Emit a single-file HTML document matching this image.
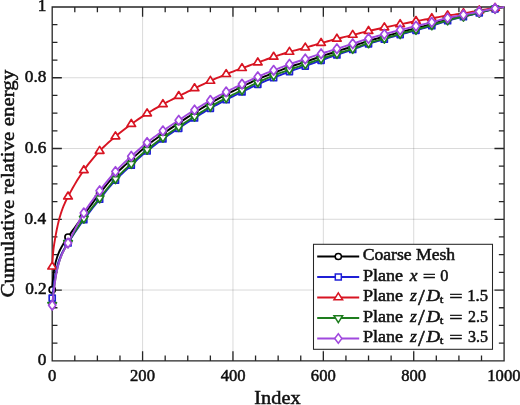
<!DOCTYPE html>
<html><head><meta charset="utf-8"><style>
html,body{margin:0;padding:0;background:#fff;}
svg{display:block;}
text{font-family:"Liberation Serif","DejaVu Serif",serif;fill:#111;stroke:#111;stroke-width:0.5px;}
</style></head><body>
<svg width="520" height="405" viewBox="0 0 520 405">
<rect x="0" y="0" width="520" height="405" fill="#fff"/>

<path d="M142.58 7.00V360.80" stroke="#262626" stroke-opacity="0.17" stroke-width="1" fill="none"/>
<path d="M232.96 7.00V360.80" stroke="#262626" stroke-opacity="0.17" stroke-width="1" fill="none"/>
<path d="M323.34 7.00V360.80" stroke="#262626" stroke-opacity="0.17" stroke-width="1" fill="none"/>
<path d="M413.72 7.00V360.80" stroke="#262626" stroke-opacity="0.17" stroke-width="1" fill="none"/>
<path d="M52.20 290.04H504.10" stroke="#262626" stroke-opacity="0.17" stroke-width="1" fill="none"/>
<path d="M52.20 219.28H504.10" stroke="#262626" stroke-opacity="0.17" stroke-width="1" fill="none"/>
<path d="M52.20 148.52H504.10" stroke="#262626" stroke-opacity="0.17" stroke-width="1" fill="none"/>
<path d="M52.20 77.76H504.10" stroke="#262626" stroke-opacity="0.17" stroke-width="1" fill="none"/>
<path d="M52.20 7.00H504.10V360.80H52.20Z M52.20 360.80v-9.0 M52.20 7.00v9.0 M74.80 360.80v-4.6 M74.80 7.00v4.6 M97.39 360.80v-4.6 M97.39 7.00v4.6 M119.98 360.80v-4.6 M119.98 7.00v4.6 M142.58 360.80v-9.0 M142.58 7.00v9.0 M165.18 360.80v-4.6 M165.18 7.00v4.6 M187.77 360.80v-4.6 M187.77 7.00v4.6 M210.37 360.80v-4.6 M210.37 7.00v4.6 M232.96 360.80v-9.0 M232.96 7.00v9.0 M255.56 360.80v-4.6 M255.56 7.00v4.6 M278.15 360.80v-4.6 M278.15 7.00v4.6 M300.75 360.80v-4.6 M300.75 7.00v4.6 M323.34 360.80v-9.0 M323.34 7.00v9.0 M345.94 360.80v-4.6 M345.94 7.00v4.6 M368.53 360.80v-4.6 M368.53 7.00v4.6 M391.12 360.80v-4.6 M391.12 7.00v4.6 M413.72 360.80v-9.0 M413.72 7.00v9.0 M436.31 360.80v-4.6 M436.31 7.00v4.6 M458.91 360.80v-4.6 M458.91 7.00v4.6 M481.51 360.80v-4.6 M481.51 7.00v4.6 M504.10 360.80v-9.0 M504.10 7.00v9.0 M52.20 360.80h9.0 M504.10 360.80h-9.0 M52.20 343.11h4.6 M504.10 343.11h-4.6 M52.20 325.42h4.6 M504.10 325.42h-4.6 M52.20 307.73h4.6 M504.10 307.73h-4.6 M52.20 290.04h9.0 M504.10 290.04h-9.0 M52.20 272.35h4.6 M504.10 272.35h-4.6 M52.20 254.66h4.6 M504.10 254.66h-4.6 M52.20 236.97h4.6 M504.10 236.97h-4.6 M52.20 219.28h9.0 M504.10 219.28h-9.0 M52.20 201.59h4.6 M504.10 201.59h-4.6 M52.20 183.90h4.6 M504.10 183.90h-4.6 M52.20 166.21h4.6 M504.10 166.21h-4.6 M52.20 148.52h9.0 M504.10 148.52h-9.0 M52.20 130.83h4.6 M504.10 130.83h-4.6 M52.20 113.14h4.6 M504.10 113.14h-4.6 M52.20 95.45h4.6 M504.10 95.45h-4.6 M52.20 77.76h9.0 M504.10 77.76h-9.0 M52.20 60.07h4.6 M504.10 60.07h-4.6 M52.20 42.38h4.6 M504.10 42.38h-4.6 M52.20 24.69h4.6 M504.10 24.69h-4.6 M52.20 7.00h9.0 M504.10 7.00h-9.0" stroke="#262626" stroke-width="1.3" fill="none" stroke-linecap="square"/>
<g fill="none" stroke-width="1.9" stroke-linejoin="round">
<path d="M52.20 289.76 L52.43 286.88 L52.65 284.04 L52.88 281.30 L53.10 278.69 L53.33 276.27 L53.56 274.08 L53.78 272.17 L54.01 270.58 L54.23 269.21 L54.46 267.93 L54.69 266.71 L54.91 265.57 L55.14 264.49 L55.36 263.47 L55.59 262.51 L55.82 261.60 L56.04 260.75 L56.27 259.93 L56.49 259.16 L56.72 258.41 L56.94 257.71 L57.17 257.02 L57.40 256.36 L57.62 255.72 L57.85 255.10 L58.07 254.49 L58.30 253.91 L58.53 253.34 L58.75 252.79 L58.98 252.25 L59.20 251.73 L59.43 251.23 L59.66 250.73 L59.88 250.26 L60.11 249.79 L60.33 249.33 L60.56 248.89 L60.79 248.45 L61.01 248.03 L61.24 247.61 L61.46 247.20 L61.69 246.80 L61.92 246.40 L62.14 246.00 L62.37 245.61 L62.59 245.23 L62.82 244.84 L63.05 244.46 L63.27 244.07 L63.50 243.69 L63.72 243.31 L63.95 242.94 L64.18 242.58 L64.40 242.23 L64.63 241.89 L64.85 241.55 L65.08 241.21 L65.31 240.88 L65.53 240.56 L65.76 240.24 L65.98 239.92 L66.21 239.60 L66.43 239.29 L66.66 238.98 L66.89 238.66 L67.11 238.35 L67.34 238.03 L67.56 237.72 L67.79 237.40 L68.02 237.08 L68.24 236.75 L68.47 236.43 L68.69 236.11 L68.92 235.78 L69.15 235.46 L69.37 235.14 L69.60 234.82 L69.82 234.50 L70.05 234.17 L70.28 233.85 L72.54 230.67 L74.80 227.51 L77.05 224.37 L79.31 221.25 L81.57 218.14 L83.83 215.03 L86.09 211.92 L88.35 208.79 L90.61 205.67 L92.87 202.58 L95.13 199.52 L97.39 196.52 L99.65 193.59 L101.91 190.71 L104.17 187.85 L106.43 185.03 L108.69 182.26 L110.95 179.58 L113.21 176.99 L115.47 174.52 L117.73 172.18 L119.98 169.93 L122.24 167.77 L124.50 165.66 L126.76 163.59 L129.02 161.54 L131.28 159.49 L133.54 157.43 L135.80 155.37 L138.06 153.34 L140.32 151.33 L142.58 149.37 L144.84 147.45 L147.10 145.60 L149.36 143.81 L151.62 142.07 L153.88 140.36 L156.14 138.70 L158.40 137.06 L160.66 135.44 L162.92 133.84 L165.18 132.25 L167.43 130.70 L169.69 129.16 L171.95 127.64 L174.21 126.14 L176.47 124.64 L178.73 123.13 L180.99 121.63 L183.25 120.13 L185.51 118.64 L187.77 117.15 L190.03 115.68 L192.29 114.22 L194.55 112.79 L196.81 111.36 L199.07 109.95 L201.33 108.55 L203.59 107.16 L205.85 105.80 L208.11 104.46 L210.37 103.15 L212.62 101.86 L214.88 100.60 L217.14 99.36 L219.40 98.14 L221.66 96.93 L223.92 95.74 L226.18 94.57 L228.44 93.40 L230.70 92.26 L232.96 91.13 L235.22 90.01 L237.48 88.90 L239.74 87.79 L242.00 86.69 L244.26 85.59 L246.52 84.48 L248.78 83.37 L251.04 82.28 L253.30 81.21 L255.56 80.17 L257.81 79.18 L260.07 78.22 L262.33 77.29 L264.59 76.40 L266.85 75.52 L269.11 74.65 L271.37 73.79 L273.63 72.92 L275.89 72.06 L278.15 71.19 L280.41 70.33 L282.67 69.48 L284.93 68.65 L287.19 67.83 L289.45 67.03 L291.71 66.25 L293.97 65.50 L296.23 64.77 L298.49 64.04 L300.75 63.32 L303.00 62.59 L305.26 61.84 L307.52 61.07 L309.78 60.30 L312.04 59.52 L314.30 58.73 L316.56 57.96 L318.82 57.19 L321.08 56.43 L323.34 55.69 L325.60 54.96 L327.86 54.24 L330.12 53.52 L332.38 52.81 L334.64 52.10 L336.90 51.38 L339.16 50.66 L341.42 49.94 L343.68 49.23 L345.94 48.51 L348.19 47.79 L350.45 47.06 L352.71 46.32 L354.97 45.56 L357.23 44.77 L359.49 43.97 L361.75 43.17 L364.01 42.38 L366.27 41.63 L368.53 40.91 L370.79 40.24 L373.05 39.60 L375.31 38.99 L377.57 38.38 L379.83 37.78 L382.09 37.18 L384.35 36.57 L386.61 35.94 L388.87 35.31 L391.12 34.69 L393.38 34.06 L395.64 33.44 L397.90 32.82 L400.16 32.22 L402.42 31.64 L404.68 31.06 L406.94 30.50 L409.20 29.94 L411.46 29.38 L413.72 28.81 L415.98 28.23 L418.24 27.64 L420.50 27.04 L422.76 26.43 L425.02 25.83 L427.28 25.21 L429.54 24.59 L431.80 23.96 L434.06 23.30 L436.31 22.63 L438.57 21.94 L440.83 21.25 L443.09 20.57 L445.35 19.93 L447.61 19.33 L449.87 18.77 L452.13 18.24 L454.39 17.74 L456.65 17.24 L458.91 16.76 L461.17 16.26 L463.43 15.76 L465.69 15.25 L467.95 14.74 L470.21 14.24 L472.47 13.73 L474.73 13.22 L476.99 12.71 L479.25 12.20 L481.51 11.68 L483.76 11.15 L486.02 10.63 L488.28 10.10 L490.54 9.59 L492.80 9.10 L495.06 8.63 L497.32 8.20 L499.58 7.78 L501.84 7.38 L504.10 7.00" stroke="#000000"/>
<g fill="#fff" stroke="#000000" stroke-width="1.7">
<circle cx="52.20" cy="289.76" r="3.1"/>
<circle cx="68.02" cy="237.08" r="3.1"/>
<circle cx="83.83" cy="215.03" r="3.1"/>
<circle cx="99.65" cy="193.59" r="3.1"/>
<circle cx="115.47" cy="174.52" r="3.1"/>
<circle cx="131.28" cy="159.49" r="3.1"/>
<circle cx="147.10" cy="145.60" r="3.1"/>
<circle cx="162.92" cy="133.84" r="3.1"/>
<circle cx="178.73" cy="123.13" r="3.1"/>
<circle cx="194.55" cy="112.79" r="3.1"/>
<circle cx="210.37" cy="103.15" r="3.1"/>
<circle cx="226.18" cy="94.57" r="3.1"/>
<circle cx="242.00" cy="86.69" r="3.1"/>
<circle cx="257.81" cy="79.18" r="3.1"/>
<circle cx="273.63" cy="72.92" r="3.1"/>
<circle cx="289.45" cy="67.03" r="3.1"/>
<circle cx="305.26" cy="61.84" r="3.1"/>
<circle cx="321.08" cy="56.43" r="3.1"/>
<circle cx="336.90" cy="51.38" r="3.1"/>
<circle cx="352.71" cy="46.32" r="3.1"/>
<circle cx="368.53" cy="40.91" r="3.1"/>
<circle cx="384.35" cy="36.57" r="3.1"/>
<circle cx="400.16" cy="32.22" r="3.1"/>
<circle cx="415.98" cy="28.23" r="3.1"/>
<circle cx="431.80" cy="23.96" r="3.1"/>
<circle cx="447.61" cy="19.33" r="3.1"/>
<circle cx="463.43" cy="15.76" r="3.1"/>
<circle cx="479.25" cy="12.20" r="3.1"/>
<circle cx="495.06" cy="8.63" r="3.1"/>
</g>
<path d="M52.20 298.04 L52.43 296.14 L52.65 294.27 L52.88 292.44 L53.10 290.63 L53.33 288.86 L53.56 287.13 L53.78 285.43 L54.01 283.78 L54.23 282.18 L54.46 280.62 L54.69 279.11 L54.91 277.65 L55.14 276.24 L55.36 274.89 L55.59 273.60 L55.82 272.37 L56.04 271.20 L56.27 270.10 L56.49 269.07 L56.72 268.10 L56.94 267.19 L57.17 266.32 L57.40 265.47 L57.62 264.65 L57.85 263.86 L58.07 263.11 L58.30 262.37 L58.53 261.66 L58.75 260.98 L58.98 260.32 L59.20 259.68 L59.43 259.06 L59.66 258.45 L59.88 257.87 L60.11 257.30 L60.33 256.75 L60.56 256.21 L60.79 255.68 L61.01 255.17 L61.24 254.66 L61.46 254.16 L61.69 253.68 L61.92 253.21 L62.14 252.75 L62.37 252.30 L62.59 251.87 L62.82 251.44 L63.05 251.02 L63.27 250.61 L63.50 250.21 L63.72 249.81 L63.95 249.43 L64.18 249.05 L64.40 248.67 L64.63 248.30 L64.85 247.94 L65.08 247.57 L65.31 247.22 L65.53 246.86 L65.76 246.51 L65.98 246.16 L66.21 245.81 L66.43 245.46 L66.66 245.11 L66.89 244.76 L67.11 244.41 L67.34 244.06 L67.56 243.70 L67.79 243.35 L68.02 242.98 L68.24 242.62 L68.47 242.26 L68.69 241.90 L68.92 241.54 L69.15 241.18 L69.37 240.83 L69.60 240.47 L69.82 240.11 L70.05 239.76 L70.28 239.41 L72.54 235.92 L74.80 232.52 L77.05 229.20 L79.31 225.95 L81.57 222.77 L83.83 219.63 L86.09 216.57 L88.35 213.57 L90.61 210.64 L92.87 207.75 L95.13 204.90 L97.39 202.07 L99.65 199.25 L101.91 196.42 L104.17 193.58 L106.43 190.76 L108.69 187.98 L110.95 185.27 L113.21 182.66 L115.47 180.19 L117.73 177.84 L119.98 175.60 L122.24 173.44 L124.50 171.34 L126.76 169.27 L129.02 167.22 L131.28 165.15 L133.54 163.06 L135.80 160.98 L138.06 158.90 L140.32 156.86 L142.58 154.85 L144.84 152.89 L147.10 151.00 L149.36 149.16 L151.62 147.38 L153.88 145.63 L156.14 143.92 L158.40 142.24 L160.66 140.59 L162.92 138.97 L165.18 137.37 L167.43 135.81 L169.69 134.28 L171.95 132.77 L174.21 131.27 L176.47 129.78 L178.73 128.28 L180.99 126.78 L183.25 125.28 L185.51 123.79 L187.77 122.31 L190.03 120.84 L192.29 119.39 L194.55 117.95 L196.81 116.53 L199.07 115.12 L201.33 113.72 L203.59 112.34 L205.85 110.98 L208.11 109.64 L210.37 108.33 L212.62 107.05 L214.88 105.79 L217.14 104.55 L219.40 103.33 L221.66 102.13 L223.92 100.94 L226.18 99.77 L228.44 98.61 L230.70 97.47 L232.96 96.34 L235.22 95.23 L237.48 94.12 L239.74 93.01 L242.00 91.91 L244.26 90.80 L246.52 89.69 L248.78 88.58 L251.04 87.47 L253.30 86.39 L255.56 85.33 L257.81 84.31 L260.07 83.32 L262.33 82.35 L264.59 81.41 L266.85 80.49 L269.11 79.57 L271.37 78.67 L273.63 77.76 L275.89 76.85 L278.15 75.94 L280.41 75.04 L282.67 74.15 L284.93 73.27 L287.19 72.41 L289.45 71.57 L291.71 70.75 L293.97 69.96 L296.23 69.19 L298.49 68.42 L300.75 67.65 L303.00 66.88 L305.26 66.08 L307.52 65.27 L309.78 64.44 L312.04 63.61 L314.30 62.77 L316.56 61.94 L318.82 61.11 L321.08 60.31 L323.34 59.51 L325.60 58.73 L327.86 57.96 L330.12 57.19 L332.38 56.42 L334.64 55.65 L336.90 54.88 L339.16 54.11 L341.42 53.34 L343.68 52.57 L345.94 51.80 L348.19 51.02 L350.45 50.24 L352.71 49.46 L354.97 48.65 L357.23 47.82 L359.49 46.99 L361.75 46.15 L364.01 45.33 L366.27 44.54 L368.53 43.80 L370.79 43.09 L373.05 42.41 L375.31 41.76 L377.57 41.12 L379.83 40.48 L382.09 39.84 L384.35 39.20 L386.61 38.54 L388.87 37.87 L391.12 37.21 L393.38 36.54 L395.64 35.88 L397.90 35.23 L400.16 34.60 L402.42 33.98 L404.68 33.37 L406.94 32.77 L409.20 32.18 L411.46 31.58 L413.72 30.97 L415.98 30.35 L418.24 29.71 L420.50 29.06 L422.76 28.40 L425.02 27.74 L427.28 27.06 L429.54 26.38 L431.80 25.70 L434.06 24.99 L436.31 24.26 L438.57 23.51 L440.83 22.77 L443.09 22.04 L445.35 21.35 L447.61 20.69 L449.87 20.08 L452.13 19.49 L454.39 18.93 L456.65 18.39 L458.91 17.84 L461.17 17.30 L463.43 16.74 L465.69 16.18 L467.95 15.62 L470.21 15.05 L472.47 14.49 L474.73 13.92 L476.99 13.36 L479.25 12.80 L481.51 12.23 L483.76 11.64 L486.02 11.06 L488.28 10.48 L490.54 9.92 L492.80 9.37 L495.06 8.85 L497.32 8.36 L499.58 7.89 L501.84 7.43 L504.10 7.00" stroke="#1f1fd6"/>
<g fill="#fff" stroke="#1f1fd6" stroke-width="1.7">
<rect x="49.20" y="295.04" width="6.00" height="6.00"/>
<rect x="65.02" y="239.98" width="6.00" height="6.00"/>
<rect x="80.83" y="216.63" width="6.00" height="6.00"/>
<rect x="96.65" y="196.25" width="6.00" height="6.00"/>
<rect x="112.47" y="177.19" width="6.00" height="6.00"/>
<rect x="128.28" y="162.15" width="6.00" height="6.00"/>
<rect x="144.10" y="148.00" width="6.00" height="6.00"/>
<rect x="159.92" y="135.97" width="6.00" height="6.00"/>
<rect x="175.73" y="125.28" width="6.00" height="6.00"/>
<rect x="191.55" y="114.95" width="6.00" height="6.00"/>
<rect x="207.37" y="105.33" width="6.00" height="6.00"/>
<rect x="223.18" y="96.77" width="6.00" height="6.00"/>
<rect x="239.00" y="88.91" width="6.00" height="6.00"/>
<rect x="254.81" y="81.31" width="6.00" height="6.00"/>
<rect x="270.63" y="74.76" width="6.00" height="6.00"/>
<rect x="286.45" y="68.57" width="6.00" height="6.00"/>
<rect x="302.26" y="63.08" width="6.00" height="6.00"/>
<rect x="318.08" y="57.31" width="6.00" height="6.00"/>
<rect x="333.90" y="51.88" width="6.00" height="6.00"/>
<rect x="349.71" y="46.46" width="6.00" height="6.00"/>
<rect x="365.53" y="40.80" width="6.00" height="6.00"/>
<rect x="381.35" y="36.20" width="6.00" height="6.00"/>
<rect x="397.16" y="31.60" width="6.00" height="6.00"/>
<rect x="412.98" y="27.35" width="6.00" height="6.00"/>
<rect x="428.80" y="22.70" width="6.00" height="6.00"/>
<rect x="444.61" y="17.69" width="6.00" height="6.00"/>
<rect x="460.43" y="13.74" width="6.00" height="6.00"/>
<rect x="476.25" y="9.80" width="6.00" height="6.00"/>
<rect x="492.06" y="5.85" width="6.00" height="6.00"/>
</g>
<path d="M52.20 266.69 L52.43 262.69 L52.65 258.92 L52.88 255.59 L53.10 252.89 L53.33 250.71 L53.56 248.75 L53.78 246.99 L54.01 245.38 L54.23 243.90 L54.46 242.50 L54.69 241.14 L54.91 239.80 L55.14 238.46 L55.36 237.16 L55.59 235.88 L55.82 234.62 L56.04 233.40 L56.27 232.20 L56.49 231.03 L56.72 229.89 L56.94 228.77 L57.17 227.69 L57.40 226.63 L57.62 225.60 L57.85 224.59 L58.07 223.62 L58.30 222.67 L58.53 221.75 L58.75 220.85 L58.98 219.99 L59.20 219.15 L59.43 218.32 L59.66 217.52 L59.88 216.73 L60.11 215.97 L60.33 215.21 L60.56 214.48 L60.79 213.76 L61.01 213.06 L61.24 212.37 L61.46 211.70 L61.69 211.04 L61.92 210.39 L62.14 209.76 L62.37 209.13 L62.59 208.52 L62.82 207.93 L63.05 207.34 L63.27 206.76 L63.50 206.19 L63.72 205.63 L63.95 205.08 L64.18 204.55 L64.40 204.03 L64.63 203.51 L64.85 203.01 L65.08 202.51 L65.31 202.03 L65.53 201.55 L65.76 201.08 L65.98 200.61 L66.21 200.16 L66.43 199.70 L66.66 199.25 L66.89 198.81 L67.11 198.37 L67.34 197.93 L67.56 197.50 L67.79 197.07 L68.02 196.64 L68.24 196.21 L68.47 195.78 L68.69 195.35 L68.92 194.93 L69.15 194.50 L69.37 194.08 L69.60 193.66 L69.82 193.24 L70.05 192.82 L70.28 192.40 L72.54 188.32 L74.80 184.38 L77.05 180.61 L79.31 176.99 L81.57 173.55 L83.83 170.28 L86.09 167.16 L88.35 164.17 L90.61 161.31 L92.87 158.57 L95.13 155.93 L97.39 153.41 L99.65 151.00 L101.91 148.69 L104.17 146.49 L106.43 144.37 L108.69 142.33 L110.95 140.35 L113.21 138.41 L115.47 136.49 L117.73 134.60 L119.98 132.75 L122.24 130.95 L124.50 129.18 L126.76 127.45 L129.02 125.76 L131.28 124.11 L133.54 122.49 L135.80 120.91 L138.06 119.37 L140.32 117.85 L142.58 116.37 L144.84 114.92 L147.10 113.49 L149.36 112.10 L151.62 110.74 L153.88 109.40 L156.14 108.09 L158.40 106.80 L160.66 105.54 L162.92 104.30 L165.18 103.08 L167.43 101.89 L169.69 100.72 L171.95 99.57 L174.21 98.43 L176.47 97.29 L178.73 96.16 L180.99 95.02 L183.25 93.90 L185.51 92.78 L187.77 91.67 L190.03 90.56 L192.29 89.46 L194.55 88.37 L196.81 87.29 L199.07 86.20 L201.33 85.13 L203.59 84.06 L205.85 83.00 L208.11 81.96 L210.37 80.94 L212.62 79.94 L214.88 78.95 L217.14 77.98 L219.40 77.02 L221.66 76.07 L223.92 75.14 L226.18 74.22 L228.44 73.32 L230.70 72.44 L232.96 71.58 L235.22 70.72 L237.48 69.88 L239.74 69.04 L242.00 68.21 L244.26 67.38 L246.52 66.57 L248.78 65.76 L251.04 64.95 L253.30 64.15 L255.56 63.35 L257.81 62.55 L260.07 61.73 L262.33 60.91 L264.59 60.08 L266.85 59.26 L269.11 58.45 L271.37 57.65 L273.63 56.89 L275.89 56.14 L278.15 55.40 L280.41 54.68 L282.67 53.97 L284.93 53.27 L287.19 52.59 L289.45 51.93 L291.71 51.29 L293.97 50.68 L296.23 50.09 L298.49 49.50 L300.75 48.91 L303.00 48.31 L305.26 47.69 L307.52 47.05 L309.78 46.39 L312.04 45.72 L314.30 45.05 L316.56 44.39 L318.82 43.73 L321.08 43.09 L323.34 42.46 L325.60 41.84 L327.86 41.22 L330.12 40.62 L332.38 40.02 L334.64 39.43 L336.90 38.84 L339.16 38.27 L341.42 37.71 L343.68 37.15 L345.94 36.60 L348.19 36.05 L350.45 35.50 L352.71 34.95 L354.97 34.39 L357.23 33.83 L359.49 33.26 L361.75 32.70 L364.01 32.14 L366.27 31.59 L368.53 31.06 L370.79 30.53 L373.05 30.01 L375.31 29.50 L377.57 28.99 L379.83 28.49 L382.09 28.00 L384.35 27.52 L386.61 27.05 L388.87 26.59 L391.12 26.13 L393.38 25.68 L395.64 25.24 L397.90 24.79 L400.16 24.34 L402.42 23.88 L404.68 23.42 L406.94 22.95 L409.20 22.49 L411.46 22.03 L413.72 21.59 L415.98 21.15 L418.24 20.73 L420.50 20.32 L422.76 19.92 L425.02 19.52 L427.28 19.12 L429.54 18.72 L431.80 18.32 L434.06 17.91 L436.31 17.49 L438.57 17.07 L440.83 16.65 L443.09 16.24 L445.35 15.85 L447.61 15.49 L449.87 15.16 L452.13 14.86 L454.39 14.57 L456.65 14.29 L458.91 14.00 L461.17 13.70 L463.43 13.37 L465.69 13.00 L467.95 12.61 L470.21 12.19 L472.47 11.77 L474.73 11.34 L476.99 10.93 L479.25 10.54 L481.51 10.16 L483.76 9.78 L486.02 9.41 L488.28 9.05 L490.54 8.70 L492.80 8.37 L495.06 8.06 L497.32 7.77 L499.58 7.50 L501.84 7.24 L504.10 7.00" stroke="#d81422"/>
<g fill="#fff" stroke="#d81422" stroke-width="1.7">
<path d="M52.20 262.09 L56.50 268.99 L47.90 268.99Z"/>
<path d="M68.02 192.04 L72.32 198.94 L63.72 198.94Z"/>
<path d="M83.83 165.68 L88.13 172.58 L79.53 172.58Z"/>
<path d="M99.65 146.40 L103.95 153.30 L95.35 153.30Z"/>
<path d="M115.47 131.89 L119.77 138.79 L111.17 138.79Z"/>
<path d="M131.28 119.51 L135.58 126.41 L126.98 126.41Z"/>
<path d="M147.10 108.89 L151.40 115.79 L142.80 115.79Z"/>
<path d="M162.92 99.70 L167.22 106.60 L158.62 106.60Z"/>
<path d="M178.73 91.56 L183.03 98.46 L174.43 98.46Z"/>
<path d="M194.55 83.77 L198.85 90.67 L190.25 90.67Z"/>
<path d="M210.37 76.34 L214.67 83.24 L206.06 83.24Z"/>
<path d="M226.18 69.62 L230.48 76.52 L221.88 76.52Z"/>
<path d="M242.00 63.61 L246.30 70.51 L237.70 70.51Z"/>
<path d="M257.81 57.95 L262.11 64.85 L253.51 64.85Z"/>
<path d="M273.63 52.29 L277.93 59.19 L269.33 59.19Z"/>
<path d="M289.45 47.33 L293.75 54.23 L285.15 54.23Z"/>
<path d="M305.26 43.09 L309.56 49.99 L300.96 49.99Z"/>
<path d="M321.08 38.49 L325.38 45.39 L316.78 45.39Z"/>
<path d="M336.90 34.24 L341.20 41.14 L332.60 41.14Z"/>
<path d="M352.71 30.35 L357.01 37.25 L348.41 37.25Z"/>
<path d="M368.53 26.46 L372.83 33.36 L364.23 33.36Z"/>
<path d="M384.35 22.92 L388.65 29.82 L380.05 29.82Z"/>
<path d="M400.16 19.74 L404.46 26.64 L395.86 26.64Z"/>
<path d="M415.98 16.55 L420.28 23.45 L411.68 23.45Z"/>
<path d="M431.80 13.72 L436.10 20.62 L427.50 20.62Z"/>
<path d="M447.61 10.89 L451.91 17.79 L443.31 17.79Z"/>
<path d="M463.43 8.77 L467.73 15.67 L459.13 15.67Z"/>
<path d="M479.25 5.94 L483.55 12.84 L474.95 12.84Z"/>
<path d="M495.06 3.46 L499.36 10.36 L490.76 10.36Z"/>
</g>
<path d="M52.20 304.90 L52.43 302.77 L52.65 300.68 L52.88 298.62 L53.10 296.59 L53.33 294.61 L53.56 292.67 L53.78 290.77 L54.01 288.91 L54.23 287.11 L54.46 285.36 L54.69 283.67 L54.91 282.03 L55.14 280.45 L55.36 278.93 L55.59 277.48 L55.82 276.10 L56.04 274.78 L56.27 273.54 L56.49 272.38 L56.72 271.29 L56.94 270.26 L57.17 269.27 L57.40 268.31 L57.62 267.39 L57.85 266.50 L58.07 265.64 L58.30 264.80 L58.53 264.00 L58.75 263.23 L58.98 262.48 L59.20 261.75 L59.43 261.05 L59.66 260.36 L59.88 259.70 L60.11 259.06 L60.33 258.43 L60.56 257.82 L60.79 257.23 L61.01 256.65 L61.24 256.08 L61.46 255.52 L61.69 254.97 L61.92 254.44 L62.14 253.92 L62.37 253.42 L62.59 252.92 L62.82 252.44 L63.05 251.96 L63.27 251.50 L63.50 251.05 L63.72 250.60 L63.95 250.16 L64.18 249.73 L64.40 249.31 L64.63 248.89 L64.85 248.48 L65.08 248.07 L65.31 247.67 L65.53 247.27 L65.76 246.87 L65.98 246.48 L66.21 246.09 L66.43 245.70 L66.66 245.31 L66.89 244.93 L67.11 244.54 L67.34 244.15 L67.56 243.77 L67.79 243.38 L68.02 242.98 L68.24 242.59 L68.47 242.20 L68.69 241.81 L68.92 241.42 L69.15 241.04 L69.37 240.65 L69.60 240.27 L69.82 239.89 L70.05 239.51 L70.28 239.13 L72.54 235.42 L74.80 231.85 L77.05 228.40 L79.31 225.04 L81.57 221.77 L83.83 218.57 L86.09 215.46 L88.35 212.45 L90.61 209.52 L92.87 206.65 L95.13 203.82 L97.39 201.01 L99.65 198.19 L101.91 195.35 L104.17 192.48 L106.43 189.63 L108.69 186.82 L110.95 184.09 L113.21 181.45 L115.47 178.95 L117.73 176.58 L119.98 174.31 L122.24 172.12 L124.50 169.99 L126.76 167.90 L129.02 165.82 L131.28 163.73 L133.54 161.64 L135.80 159.55 L138.06 157.48 L140.32 155.43 L142.58 153.43 L144.84 151.47 L147.10 149.58 L149.36 147.75 L151.62 145.96 L153.88 144.22 L156.14 142.51 L158.40 140.83 L160.66 139.18 L162.92 137.55 L165.18 135.95 L167.43 134.38 L169.69 132.84 L171.95 131.32 L174.21 129.81 L176.47 128.30 L178.73 126.80 L180.99 125.29 L183.25 123.78 L185.51 122.28 L187.77 120.78 L190.03 119.30 L192.29 117.84 L194.55 116.39 L196.81 114.96 L199.07 113.54 L201.33 112.13 L203.59 110.74 L205.85 109.37 L208.11 108.02 L210.37 106.70 L212.62 105.41 L214.88 104.14 L217.14 102.89 L219.40 101.66 L221.66 100.45 L223.92 99.25 L226.18 98.07 L228.44 96.90 L230.70 95.75 L232.96 94.62 L235.22 93.49 L237.48 92.38 L239.74 91.26 L242.00 90.14 L244.26 89.01 L246.52 87.88 L248.78 86.74 L251.04 85.61 L253.30 84.50 L255.56 83.41 L257.81 82.36 L260.07 81.34 L262.33 80.35 L264.59 79.37 L266.85 78.41 L269.11 77.47 L271.37 76.55 L273.63 75.64 L275.89 74.74 L278.15 73.85 L280.41 72.97 L282.67 72.11 L284.93 71.27 L287.19 70.44 L289.45 69.62 L291.71 68.83 L293.97 68.06 L296.23 67.31 L298.49 66.56 L300.75 65.82 L303.00 65.07 L305.26 64.32 L307.52 63.54 L309.78 62.76 L312.04 61.98 L314.30 61.20 L316.56 60.42 L318.82 59.65 L321.08 58.89 L323.34 58.15 L325.60 57.42 L327.86 56.69 L330.12 55.97 L332.38 55.26 L334.64 54.54 L336.90 53.82 L339.16 53.10 L341.42 52.39 L343.68 51.68 L345.94 50.96 L348.19 50.24 L350.45 49.50 L352.71 48.75 L354.97 47.96 L357.23 47.14 L359.49 46.30 L361.75 45.46 L364.01 44.64 L366.27 43.84 L368.53 43.09 L370.79 42.38 L373.05 41.70 L375.31 41.05 L377.57 40.41 L379.83 39.77 L382.09 39.14 L384.35 38.49 L386.61 37.83 L388.87 37.16 L391.12 36.50 L393.38 35.83 L395.64 35.18 L397.90 34.53 L400.16 33.89 L402.42 33.27 L404.68 32.66 L406.94 32.06 L409.20 31.46 L411.46 30.87 L413.72 30.26 L415.98 29.64 L418.24 29.01 L420.50 28.38 L422.76 27.74 L425.02 27.10 L427.28 26.44 L429.54 25.78 L431.80 25.12 L434.06 24.43 L436.31 23.71 L438.57 22.99 L440.83 22.26 L443.09 21.55 L445.35 20.87 L447.61 20.24 L449.87 19.64 L452.13 19.08 L454.39 18.53 L456.65 18.00 L458.91 17.48 L461.17 16.95 L463.43 16.42 L465.69 15.87 L467.95 15.33 L470.21 14.78 L472.47 14.23 L474.73 13.69 L476.99 13.14 L479.25 12.60 L481.51 12.04 L483.76 11.48 L486.02 10.92 L488.28 10.36 L490.54 9.81 L492.80 9.28 L495.06 8.78 L497.32 8.30 L499.58 7.85 L501.84 7.42 L504.10 7.00" stroke="#1e7d1e"/>
<g fill="#fff" stroke="#1e7d1e" stroke-width="1.7">
<path d="M52.20 309.50 L56.50 302.60 L47.90 302.60Z"/>
<path d="M68.02 247.58 L72.32 240.68 L63.72 240.68Z"/>
<path d="M83.83 223.17 L88.13 216.27 L79.53 216.27Z"/>
<path d="M99.65 202.79 L103.95 195.89 L95.35 195.89Z"/>
<path d="M115.47 183.55 L119.77 176.65 L111.17 176.65Z"/>
<path d="M131.28 168.33 L135.58 161.43 L126.98 161.43Z"/>
<path d="M147.10 154.18 L151.40 147.28 L142.80 147.28Z"/>
<path d="M162.92 142.15 L167.22 135.25 L158.62 135.25Z"/>
<path d="M178.73 131.40 L183.03 124.50 L174.43 124.50Z"/>
<path d="M194.55 120.99 L198.85 114.09 L190.25 114.09Z"/>
<path d="M210.37 111.30 L214.67 104.40 L206.06 104.40Z"/>
<path d="M226.18 102.67 L230.48 95.77 L221.88 95.77Z"/>
<path d="M242.00 94.74 L246.30 87.84 L237.70 87.84Z"/>
<path d="M257.81 86.96 L262.11 80.06 L253.51 80.06Z"/>
<path d="M273.63 80.24 L277.93 73.34 L269.33 73.34Z"/>
<path d="M289.45 74.22 L293.75 67.32 L285.15 67.32Z"/>
<path d="M305.26 68.92 L309.56 62.02 L300.96 62.02Z"/>
<path d="M321.08 63.49 L325.38 56.59 L316.78 56.59Z"/>
<path d="M336.90 58.42 L341.20 51.52 L332.60 51.52Z"/>
<path d="M352.71 53.35 L357.01 46.45 L348.41 46.45Z"/>
<path d="M368.53 47.69 L372.83 40.79 L364.23 40.79Z"/>
<path d="M384.35 43.09 L388.65 36.19 L380.05 36.19Z"/>
<path d="M400.16 38.49 L404.46 31.59 L395.86 31.59Z"/>
<path d="M415.98 34.24 L420.28 27.34 L411.68 27.34Z"/>
<path d="M431.80 29.72 L436.10 22.82 L427.50 22.82Z"/>
<path d="M447.61 24.84 L451.91 17.94 L443.31 17.94Z"/>
<path d="M463.43 21.02 L467.73 14.12 L459.13 14.12Z"/>
<path d="M479.25 17.20 L483.55 10.30 L474.95 10.30Z"/>
<path d="M495.06 13.38 L499.36 6.48 L490.76 6.48Z"/>
</g>
<path d="M52.20 305.25 L52.43 303.14 L52.65 301.05 L52.88 299.00 L53.10 296.98 L53.33 295.00 L53.56 293.07 L53.78 291.17 L54.01 289.33 L54.23 287.53 L54.46 285.78 L54.69 284.08 L54.91 282.44 L55.14 280.86 L55.36 279.34 L55.59 277.89 L55.82 276.50 L56.04 275.18 L56.27 273.92 L56.49 272.75 L56.72 271.64 L56.94 270.60 L57.17 269.59 L57.40 268.61 L57.62 267.66 L57.85 266.75 L58.07 265.87 L58.30 265.02 L58.53 264.19 L58.75 263.40 L58.98 262.62 L59.20 261.88 L59.43 261.15 L59.66 260.45 L59.88 259.77 L60.11 259.11 L60.33 258.47 L60.56 257.85 L60.79 257.24 L61.01 256.65 L61.24 256.08 L61.46 255.51 L61.69 254.97 L61.92 254.44 L62.14 253.93 L62.37 253.43 L62.59 252.94 L62.82 252.47 L63.05 252.01 L63.27 251.55 L63.50 251.11 L63.72 250.68 L63.95 250.25 L64.18 249.84 L64.40 249.42 L64.63 249.02 L64.85 248.62 L65.08 248.22 L65.31 247.82 L65.53 247.43 L65.76 247.04 L65.98 246.65 L66.21 246.25 L66.43 245.86 L66.66 245.46 L66.89 245.06 L67.11 244.66 L67.34 244.25 L67.56 243.84 L67.79 243.41 L68.02 242.98 L68.24 242.55 L68.47 242.11 L68.69 241.68 L68.92 241.24 L69.15 240.80 L69.37 240.36 L69.60 239.91 L69.82 239.47 L70.05 239.03 L70.28 238.58 L72.54 234.09 L74.80 229.58 L77.05 225.13 L79.31 220.82 L81.57 216.72 L83.83 212.91 L86.09 209.37 L88.35 206.00 L90.61 202.79 L92.87 199.69 L95.13 196.67 L97.39 193.71 L99.65 190.76 L101.91 187.83 L104.17 184.94 L106.43 182.09 L108.69 179.31 L110.95 176.61 L113.21 174.01 L115.47 171.52 L117.73 169.14 L119.98 166.87 L122.24 164.67 L124.50 162.53 L126.76 160.44 L129.02 158.37 L131.28 156.30 L133.54 154.24 L135.80 152.20 L138.06 150.18 L140.32 148.19 L142.58 146.24 L144.84 144.34 L147.10 142.51 L149.36 140.73 L151.62 139.00 L153.88 137.31 L156.14 135.65 L158.40 134.03 L160.66 132.42 L162.92 130.83 L165.18 129.26 L167.43 127.71 L169.69 126.19 L171.95 124.69 L174.21 123.19 L176.47 121.70 L178.73 120.22 L180.99 118.73 L183.25 117.24 L185.51 115.76 L187.77 114.28 L190.03 112.82 L192.29 111.38 L194.55 109.96 L196.81 108.55 L199.07 107.14 L201.33 105.76 L203.59 104.38 L205.85 103.03 L208.11 101.70 L210.37 100.40 L212.62 99.13 L214.88 97.88 L217.14 96.66 L219.40 95.45 L221.66 94.26 L223.92 93.08 L226.18 91.91 L228.44 90.76 L230.70 89.63 L232.96 88.51 L235.22 87.40 L237.48 86.31 L239.74 85.22 L242.00 84.13 L244.26 83.04 L246.52 81.95 L248.78 80.86 L251.04 79.78 L253.30 78.73 L255.56 77.70 L257.81 76.70 L260.07 75.73 L262.33 74.80 L264.59 73.88 L266.85 72.98 L269.11 72.09 L271.37 71.21 L273.63 70.33 L275.89 69.45 L278.15 68.56 L280.41 67.69 L282.67 66.82 L284.93 65.97 L287.19 65.13 L289.45 64.32 L291.71 63.52 L293.97 62.75 L296.23 61.99 L298.49 61.25 L300.75 60.51 L303.00 59.76 L305.26 59.01 L307.52 58.25 L309.78 57.48 L312.04 56.71 L314.30 55.95 L316.56 55.19 L318.82 54.44 L321.08 53.70 L323.34 52.98 L325.60 52.26 L327.86 51.55 L330.12 50.85 L332.38 50.15 L334.64 49.45 L336.90 48.75 L339.16 48.04 L341.42 47.34 L343.68 46.64 L345.94 45.94 L348.19 45.24 L350.45 44.52 L352.71 43.80 L354.97 43.05 L357.23 42.27 L359.49 41.48 L361.75 40.70 L364.01 39.93 L366.27 39.19 L368.53 38.49 L370.79 37.83 L373.05 37.21 L375.31 36.60 L377.57 36.01 L379.83 35.43 L382.09 34.84 L384.35 34.24 L386.61 33.63 L388.87 33.02 L391.12 32.40 L393.38 31.79 L395.64 31.18 L397.90 30.58 L400.16 30.00 L402.42 29.42 L404.68 28.86 L406.94 28.31 L409.20 27.76 L411.46 27.21 L413.72 26.66 L415.98 26.11 L418.24 25.55 L420.50 25.00 L422.76 24.46 L425.02 23.90 L427.28 23.35 L429.54 22.79 L431.80 22.21 L434.06 21.62 L436.31 20.99 L438.57 20.36 L440.83 19.72 L443.09 19.10 L445.35 18.51 L447.61 17.97 L449.87 17.47 L452.13 16.99 L454.39 16.54 L456.65 16.10 L458.91 15.67 L461.17 15.23 L463.43 14.78 L465.69 14.33 L467.95 13.87 L470.21 13.42 L472.47 12.96 L474.73 12.51 L476.99 12.05 L479.25 11.60 L481.51 11.14 L483.76 10.66 L486.02 10.19 L488.28 9.72 L490.54 9.26 L492.80 8.83 L495.06 8.42 L497.32 8.03 L499.58 7.67 L501.84 7.33 L504.10 7.00" stroke="#a048de"/>
<g fill="#fff" stroke="#a048de" stroke-width="1.7">
<path d="M52.20 300.45 L55.80 305.25 L52.20 310.05 L48.60 305.25Z"/>
<path d="M68.02 238.18 L71.62 242.98 L68.02 247.78 L64.42 242.98Z"/>
<path d="M83.83 208.11 L87.43 212.91 L83.83 217.71 L80.23 212.91Z"/>
<path d="M99.65 185.96 L103.25 190.76 L99.65 195.56 L96.05 190.76Z"/>
<path d="M115.47 166.72 L119.07 171.52 L115.47 176.32 L111.87 171.52Z"/>
<path d="M131.28 151.50 L134.88 156.30 L131.28 161.10 L127.68 156.30Z"/>
<path d="M147.10 137.71 L150.70 142.51 L147.10 147.31 L143.50 142.51Z"/>
<path d="M162.92 126.03 L166.52 130.83 L162.92 135.63 L159.32 130.83Z"/>
<path d="M178.73 115.42 L182.33 120.22 L178.73 125.02 L175.13 120.22Z"/>
<path d="M194.55 105.16 L198.15 109.96 L194.55 114.76 L190.95 109.96Z"/>
<path d="M210.37 95.60 L213.97 100.40 L210.37 105.20 L206.77 100.40Z"/>
<path d="M226.18 87.11 L229.78 91.91 L226.18 96.71 L222.58 91.91Z"/>
<path d="M242.00 79.33 L245.60 84.13 L242.00 88.93 L238.40 84.13Z"/>
<path d="M257.81 71.90 L261.41 76.70 L257.81 81.50 L254.21 76.70Z"/>
<path d="M273.63 65.53 L277.23 70.33 L273.63 75.13 L270.03 70.33Z"/>
<path d="M289.45 59.52 L293.05 64.32 L289.45 69.12 L285.85 64.32Z"/>
<path d="M305.26 54.21 L308.86 59.01 L305.26 63.81 L301.66 59.01Z"/>
<path d="M321.08 48.90 L324.68 53.70 L321.08 58.50 L317.48 53.70Z"/>
<path d="M336.90 43.95 L340.50 48.75 L336.90 53.55 L333.30 48.75Z"/>
<path d="M352.71 39.00 L356.31 43.80 L352.71 48.60 L349.11 43.80Z"/>
<path d="M368.53 33.69 L372.13 38.49 L368.53 43.29 L364.93 38.49Z"/>
<path d="M384.35 29.44 L387.95 34.24 L384.35 39.04 L380.75 34.24Z"/>
<path d="M400.16 25.20 L403.76 30.00 L400.16 34.80 L396.56 30.00Z"/>
<path d="M415.98 21.31 L419.58 26.11 L415.98 30.91 L412.38 26.11Z"/>
<path d="M431.80 17.41 L435.40 22.21 L431.80 27.01 L428.20 22.21Z"/>
<path d="M447.61 13.17 L451.21 17.97 L447.61 22.77 L444.01 17.97Z"/>
<path d="M463.43 9.98 L467.03 14.78 L463.43 19.58 L459.83 14.78Z"/>
<path d="M479.25 6.80 L482.85 11.60 L479.25 16.40 L475.65 11.60Z"/>
<path d="M495.06 3.62 L498.66 8.42 L495.06 13.22 L491.46 8.42Z"/>
</g>
</g>
<text x="37.82" y="365.10" font-size="15.8" textLength="8.64" lengthAdjust="spacingAndGlyphs">0</text>
<text x="25.15" y="294.34" font-size="15.8" textLength="21.61" lengthAdjust="spacingAndGlyphs">0.2</text>
<text x="24.46" y="223.58" font-size="15.8" textLength="21.61" lengthAdjust="spacingAndGlyphs">0.4</text>
<text x="24.71" y="152.82" font-size="15.8" textLength="21.61" lengthAdjust="spacingAndGlyphs">0.6</text>
<text x="24.85" y="82.06" font-size="15.8" textLength="21.61" lengthAdjust="spacingAndGlyphs">0.8</text>
<text x="37.70" y="11.30" font-size="15.8" textLength="8.64" lengthAdjust="spacingAndGlyphs">1</text>
<text x="48.05" y="380.80" font-size="15.8" textLength="8.29" lengthAdjust="spacingAndGlyphs">0</text>
<text x="130.09" y="380.80" font-size="15.8" textLength="24.88" lengthAdjust="spacingAndGlyphs">200</text>
<text x="220.67" y="380.80" font-size="15.8" textLength="24.88" lengthAdjust="spacingAndGlyphs">400</text>
<text x="310.86" y="380.80" font-size="15.8" textLength="24.89" lengthAdjust="spacingAndGlyphs">600</text>
<text x="401.28" y="380.80" font-size="15.8" textLength="24.88" lengthAdjust="spacingAndGlyphs">800</text>
<text x="487.34" y="380.80" font-size="15.8" textLength="33.18" lengthAdjust="spacingAndGlyphs">1000</text>
<text x="254.37" y="404.20" font-size="18.6" textLength="46.18" lengthAdjust="spacingAndGlyphs">Index</text>
<text transform="translate(14.2 0) rotate(-90)" x="-297.36" y="0" font-size="18.6" textLength="227.64" lengthAdjust="spacingAndGlyphs">Cumulative relative energy</text>
<rect x="313.5" y="244.3" width="179.00" height="105.00" fill="#fff" stroke="#262626" stroke-width="1.05"/>
<path d="M317.2 256.5H359.2" stroke="#000000" stroke-width="1.85"/>
<g fill="#fff" stroke="#000000" stroke-width="1.5"><circle cx="338.30" cy="256.50" r="3.1"/></g>
<path d="M317.2 277.0H359.2" stroke="#1f1fd6" stroke-width="1.85"/>
<g fill="#fff" stroke="#1f1fd6" stroke-width="1.5"><rect x="335.30" y="274.00" width="6.00" height="6.00"/></g>
<path d="M317.2 297.5H359.2" stroke="#d81422" stroke-width="1.85"/>
<g fill="#fff" stroke="#d81422" stroke-width="1.5"><path d="M338.30 292.90 L342.60 299.80 L334.00 299.80Z"/></g>
<path d="M317.2 318.0H359.2" stroke="#1e7d1e" stroke-width="1.85"/>
<g fill="#fff" stroke="#1e7d1e" stroke-width="1.5"><path d="M338.30 322.60 L342.60 315.70 L334.00 315.70Z"/></g>
<path d="M317.2 338.5H359.2" stroke="#a048de" stroke-width="1.85"/>
<g fill="#fff" stroke="#a048de" stroke-width="1.5"><path d="M338.30 333.70 L341.90 338.50 L338.30 343.30 L334.70 338.50Z"/></g>
<text x="362.68" y="260.20" font-size="16.2" textLength="92.45" lengthAdjust="spacingAndGlyphs">Coarse Mesh</text>
<text x="362.98" y="280.70" font-size="16.2" textLength="40.15" lengthAdjust="spacingAndGlyphs">Plane</text>
<text x="409.81" y="280.70" font-size="16.2" textLength="7.72" lengthAdjust="spacingAndGlyphs" font-style="italic">x</text>
<text x="422.65" y="281.90" font-size="16.2" textLength="12.97" lengthAdjust="spacingAndGlyphs">=</text>
<text x="440.38" y="280.70" font-size="16.2" textLength="8.14" lengthAdjust="spacingAndGlyphs">0</text>
<text x="362.98" y="301.20" font-size="16.2" textLength="40.15" lengthAdjust="spacingAndGlyphs">Plane</text>
<text x="410.00" y="301.20" font-size="16.2" textLength="6.83" lengthAdjust="spacingAndGlyphs" font-style="italic">z</text>
<text x="418.00" y="304.70" font-size="23.3" textLength="6.80" lengthAdjust="spacingAndGlyphs">/</text>
<text x="426.51" y="301.20" font-size="16.2" textLength="13.67" lengthAdjust="spacingAndGlyphs" font-style="italic">D</text>
<text x="439.87" y="303.20" font-size="11.2" textLength="3.60" lengthAdjust="spacingAndGlyphs">t</text>
<text x="449.22" y="302.40" font-size="16.2" textLength="13.33" lengthAdjust="spacingAndGlyphs">=</text>
<text x="467.24" y="301.20" font-size="16.2" textLength="20.70" lengthAdjust="spacingAndGlyphs">1.5</text>
<text x="362.98" y="321.70" font-size="16.2" textLength="40.15" lengthAdjust="spacingAndGlyphs">Plane</text>
<text x="410.00" y="321.70" font-size="16.2" textLength="6.83" lengthAdjust="spacingAndGlyphs" font-style="italic">z</text>
<text x="418.00" y="325.20" font-size="23.3" textLength="6.80" lengthAdjust="spacingAndGlyphs">/</text>
<text x="426.51" y="321.70" font-size="16.2" textLength="13.67" lengthAdjust="spacingAndGlyphs" font-style="italic">D</text>
<text x="439.87" y="323.70" font-size="11.2" textLength="3.60" lengthAdjust="spacingAndGlyphs">t</text>
<text x="449.22" y="322.90" font-size="16.2" textLength="13.33" lengthAdjust="spacingAndGlyphs">=</text>
<text x="468.00" y="321.70" font-size="16.2" textLength="19.92" lengthAdjust="spacingAndGlyphs">2.5</text>
<text x="362.98" y="342.20" font-size="16.2" textLength="40.15" lengthAdjust="spacingAndGlyphs">Plane</text>
<text x="410.00" y="342.20" font-size="16.2" textLength="6.83" lengthAdjust="spacingAndGlyphs" font-style="italic">z</text>
<text x="418.00" y="345.70" font-size="23.3" textLength="6.80" lengthAdjust="spacingAndGlyphs">/</text>
<text x="426.51" y="342.20" font-size="16.2" textLength="13.67" lengthAdjust="spacingAndGlyphs" font-style="italic">D</text>
<text x="439.87" y="344.20" font-size="11.2" textLength="3.60" lengthAdjust="spacingAndGlyphs">t</text>
<text x="449.22" y="343.40" font-size="16.2" textLength="13.33" lengthAdjust="spacingAndGlyphs">=</text>
<text x="467.93" y="342.20" font-size="16.2" textLength="19.99" lengthAdjust="spacingAndGlyphs">3.5</text>
</svg></body></html>
